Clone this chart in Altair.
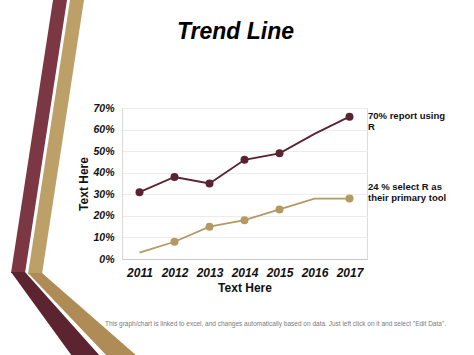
import altair as alt
import pandas as pd

# ---- data ----
years = [2011, 2012, 2013, 2014, 2015, 2016, 2017]
series_names = ["Using R", "Primary tool"]
using_r = [31, 38, 35, 46, 49, 58, 66]
primary_tool = [3, 8, 15, 18, 23, 28, 28]
using_r_marker = [1, 1, 1, 1, 1, 0, 1]
primary_tool_marker = [0, 1, 1, 1, 1, 0, 1]
y_ticks = [0, 10, 20, 30, 40, 50, 60, 70]

title_text = "Trend Line"
axis_title = "Text Here"
note_1 = ["70% report using", "R"]
note_2 = ["24 % select R as", "their primary tool"]
footer_text = ('This graph/chart is linked to excel, and changes automatically based on data. '
               'Just left click on it and select "Edit Data".')

colors = ["#5a2332", "#b39a62"]

# ---- layout (canvas pixels) ----
PAD_L, PAD_T = 122, 108
W, H = 245, 151
PAD_R, PAD_B = 474 - PAD_L - W, 355 - PAD_T - H

# decorative chevron stripes: (part, colour, y, x_left, x_right) in canvas px
DECOR = [
    ("m_up", "#7c3744", 0, 53, 67), ("m_up", "#7c3744", 273, 11, 25),
    ("m_lo", "#5c2431", 272, 11, 25), ("m_lo", "#5c2431", 356, 72, 100),
    ("t_up", "#bd9f68", 0, 70, 84), ("t_up", "#bd9f68", 274, 28, 42),
    ("t_lo", "#af8c55", 273, 28, 42), ("t_lo", "#af8c55", 356, 107, 137),
]

deco_df = pd.DataFrame(DECOR, columns=["part", "col", "py", "xl", "xr"])
deco_df["py"] = deco_df["py"] - PAD_T
deco_df["xl"] = deco_df["xl"] - PAD_L
deco_df["xr"] = deco_df["xr"] - PAD_L

deco = alt.Chart(deco_df).mark_area(orient="horizontal", opacity=1).encode(
    y=alt.Y("py:Q", scale=None, axis=None),
    x=alt.X("xl:Q", scale=None, axis=None),
    x2="xr:Q",
    color=alt.Color("col:N", scale=None, legend=None),
    detail="part:N",
)

rows = []
for name, vals, marks in [(series_names[0], using_r, using_r_marker),
                          (series_names[1], primary_tool, primary_tool_marker)]:
    for yr, v, m in zip(years, vals, marks):
        rows.append({"year": yr, "value": v, "series": name, "marker": m})
df = pd.DataFrame(rows)

x_scale = alt.Scale(domain=[2010.5, 2017.5], nice=False, zero=False)
y_scale = alt.Scale(domain=[0, 70], nice=False)
c_scale = alt.Scale(domain=series_names, range=colors)

lines = alt.Chart(df).mark_line(strokeWidth=1.8).encode(
    x=alt.X("year:Q", scale=x_scale,
            axis=alt.Axis(values=years, format="d", title=axis_title, grid=False,
                          ticks=False, domainColor="#c8c8c8", labelFontSize=12,
                          labelFontWeight="bold", labelFontStyle="italic",
                          labelColor="#111", labelPadding=8, titleFontSize=12,
                          titleFontWeight="bold", titleColor="#111", titlePadding=4)),
    y=alt.Y("value:Q", scale=y_scale,
            axis=alt.Axis(values=y_ticks, labelExpr="datum.value + '%'", title=axis_title,
                          grid=True, gridColor="#ececec", ticks=False,
                          domainColor="#d9d9d9", labelFontSize=10.5,
                          labelFontWeight="bold", labelFontStyle="italic",
                          labelColor="#111", labelPadding=8, titleFontSize=12,
                          titleFontWeight="bold", titleColor="#111", titlePadding=2)),
    color=alt.Color("series:N", scale=c_scale, legend=None),
    detail="series:N",
)

points = alt.Chart(df).transform_filter("datum.marker == 1").mark_point(
    filled=True, size=64, opacity=1
).encode(
    x=alt.X("year:Q", scale=x_scale, axis=None),
    y=alt.Y("value:Q", scale=y_scale, axis=None),
    color=alt.Color("series:N", scale=c_scale, legend=None),
)

one = pd.DataFrame({"k": [0]})

title = alt.Chart(one).mark_text(
    text=title_text, fontSize=23, fontWeight="bold", fontStyle="italic",
    align="center", baseline="middle", color="#000"
).encode(x=alt.value(235.5 - PAD_L), y=alt.value(32 - PAD_T))

n1 = alt.Chart(one).mark_text(
    text=note_1, fontSize=9.5, fontWeight="bold", align="left", baseline="top",
    lineHeight=11, color="#111"
).encode(x=alt.value(368 - PAD_L), y=alt.value(111 - PAD_T))

n2 = alt.Chart(one).mark_text(
    text=note_2, fontSize=9.5, fontWeight="bold", align="left", baseline="top",
    lineHeight=11, color="#111"
).encode(x=alt.value(368 - PAD_L), y=alt.value(182 - PAD_T))

footer = alt.Chart(one).mark_text(
    text=footer_text, fontSize=6.5, align="left", baseline="middle", color="#7a7a7a"
).encode(x=alt.value(105 - PAD_L), y=alt.value(324 - PAD_T))

chart = alt.layer(deco, lines, points, title, n1, n2, footer).resolve_scale(
    x="independent", y="independent"
).properties(
    width=W, height=H,
    autosize=alt.AutoSizeParams(type="none"),
    padding={"left": PAD_L, "top": PAD_T, "right": PAD_R, "bottom": PAD_B},
    background="white",
).configure_view(strokeWidth=0).configure(font="Liberation Sans")

chart.save("out.html", embed_options={"renderer": "svg", "actions": False})
